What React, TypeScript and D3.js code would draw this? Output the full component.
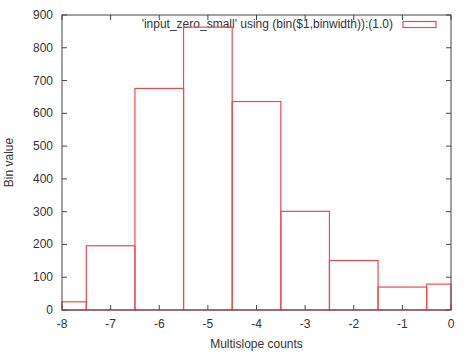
import React from "react";
import * as d3 from "d3";

const binCenters = [-8, -7, -6, -5, -4, -3, -2, -1, 0];
const binValues = [25, 196, 676, 863, 636, 301, 151, 70, 79];
const xTicks = [-8, -7, -6, -5, -4, -3, -2, -1, 0];
const yTicks = [0, 100, 200, 300, 400, 500, 600, 700, 800, 900];
const legendLabel = "'input_zero_small' using (bin($1,binwidth)):(1.0)";

export default function App() {
  const W = 474, H = 355;
  const L = 62, R = 451, T = 15, B = 310;
  const x = d3.scaleLinear().domain([-8, 0]).range([L, R]);
  const y = d3.scaleLinear().domain([0, 900]).range([B, T]);
  const font = "'Liberation Sans', Arial, sans-serif";
  const red = "#ee4a4e";
  const tick = 5;
  return (
    <svg width={W} height={H} style={{ position: "absolute", left: 0, top: 0, background: "#fff" }}>
      <g fontFamily={font} fontSize={12} fill="#333">
        {yTicks.map((v) => (
          <g key={"y" + v}>
            <line x1={L} x2={L + tick} y1={y(v)} y2={y(v)} stroke="#444" />
            <line x1={R} x2={R - tick} y1={y(v)} y2={y(v)} stroke="#444" />
            <text x={L - 9} y={y(v) + 4} textAnchor="end">{v}</text>
          </g>
        ))}
        {xTicks.map((v) => (
          <g key={"x" + v}>
            <line x1={x(v)} x2={x(v)} y1={B} y2={B - tick} stroke="#444" />
            <line x1={x(v)} x2={x(v)} y1={T} y2={T + tick} stroke="#444" />
            <text x={x(v)} y={B + 18} textAnchor="middle">{v}</text>
          </g>
        ))}
        <text transform={`translate(13,${(T + B) / 2}) rotate(-90)`} textAnchor="middle">Bin value</text>
        <text x={(L + R) / 2} y={348} textAnchor="middle">Multislope counts</text>
        <text x={393} y={28} textAnchor="end">{legendLabel}</text>
      </g>
      <g fill="none" stroke={red} strokeWidth={1.2}>
        {binCenters.map((c, i) => {
          const x0 = x(Math.max(-8, c - 0.5));
          const x1 = x(Math.min(0, c + 0.5));
          return <rect key={c} x={x0} y={y(binValues[i])} width={x1 - x0} height={B - y(binValues[i])} />;
        })}
        <rect x={403} y={21.5} width={33} height={6} />
      </g>
      <rect x={L} y={T} width={R - L} height={B - T} fill="none" stroke="#444" strokeWidth={1} />
    </svg>
  );
}
